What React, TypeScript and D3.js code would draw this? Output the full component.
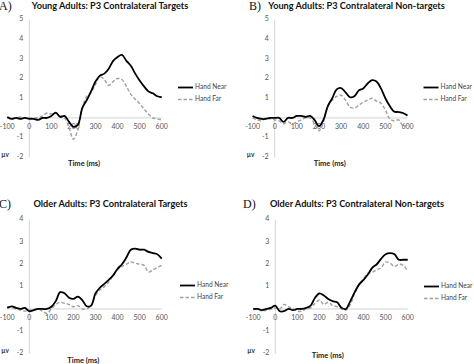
import * as d3 from 'd3';
import { useEffect, useRef } from 'react';

// time points (ms)
const times = [-100, -80, -60, -40, -20, 0, 20, 40, 60, 80, 100, 120, 140, 160, 180, 200, 220, 240, 260, 280, 300, 320, 340, 360, 380, 400, 420, 440, 460, 480, 500, 520, 540, 560, 580, 600];

const xTicks = [-100, 0, 100, 200, 300, 400, 500, 600];
const yTicksYoung = [-2, -1, 1, 2, 3, 4, 5];
const yTicksOld = [-2, -1, 1, 2, 3, 4];

const seriesNames = ['Hand Near', 'Hand Far'];

const youngTargetsNear = [0.05, -0.05, 0.0, -0.05, 0.0, -0.05, -0.05, -0.1, 0.0, 0.0, 0.1, 0.27, 0.05, 0.1, -0.2, -0.45, -0.35, 0.5, 0.9, 1.35, 1.85, 2.15, 2.25, 2.5, 2.9, 3.1, 3.2, 2.9, 2.65, 2.25, 1.9, 1.6, 1.35, 1.25, 1.1, 1.05];
const youngTargetsFar = [0.0, -0.05, 0.0, 0.05, 0.0, 0.0, 0.0, 0.0, 0.1, 0.25, 0.2, 0.25, 0.1, 0.0, -0.5, -1.08, -0.6, 0.5, 1.1, 1.3, 1.7, 2.1, 1.95, 1.65, 1.85, 2.0, 1.95, 1.6, 1.2, 0.95, 0.72, 0.45, 0.2, 0.0, -0.05, -0.1];

const youngNonNear = [0.1, 0.0, -0.05, -0.05, 0.0, 0.0, 0.0, -0.2, 0.0, 0.0, 0.1, 0.1, 0.05, 0.1, -0.1, -0.42, -0.1, 0.6, 1.0, 1.45, 1.52, 1.3, 1.05, 1.1, 1.4, 1.5, 1.75, 1.92, 1.85, 1.5, 1.0, 0.6, 0.32, 0.3, 0.25, 0.12];
const youngNonFar = [0.0, -0.1, -0.15, 0.0, -0.05, -0.1, -0.15, -0.3, -0.2, -0.3, -0.2, -0.1, 0.0, 0.0, -0.3, -0.65, -0.2, 0.6, 0.9, 1.1, 1.15, 0.9, 0.55, 0.5, 0.65, 0.8, 0.9, 1.0, 0.85, 0.75, 0.4, -0.05, -0.15, -0.1, -0.4, -0.35];

const oldTargetsNear = [0.05, 0.12, 0.05, 0.0, 0.05, -0.1, -0.05, 0.0, 0.0, 0.0, 0.1, 0.35, 0.75, 0.7, 0.5, 0.45, 0.55, 0.4, 0.12, 0.15, 0.7, 0.95, 1.12, 1.3, 1.5, 1.8, 2.0, 2.3, 2.65, 2.7, 2.65, 2.65, 2.55, 2.5, 2.45, 2.25];
const oldTargetsFar = [0.1, 0.05, 0.0, -0.05, -0.1, -0.05, -0.05, 0.0, -0.1, -0.2, 0.0, 0.2, 0.3, 0.25, 0.2, 0.1, 0.15, 0.0, 0.0, 0.15, 0.6, 0.85, 1.0, 1.2, 1.5, 1.75, 1.9, 2.0, 2.1, 2.05, 2.0, 1.95, 1.65, 1.75, 1.85, 1.95];

const oldNonNear = [0.0, 0.0, -0.05, 0.0, 0.05, 0.15, -0.1, -0.1, 0.0, -0.05, 0.0, 0.0, 0.05, 0.15, 0.5, 0.7, 0.6, 0.45, 0.35, 0.3, 0.05, 0.0, 0.35, 0.75, 1.1, 1.3, 1.55, 1.85, 2.0, 2.25, 2.45, 2.5, 2.45, 2.2, 2.2, 2.2];
const oldNonFar = [-0.05, 0.0, -0.1, -0.05, 0.0, 0.05, 0.0, 0.2, 0.1, 0.0, -0.1, -0.1, 0.0, 0.05, 0.25, 0.4, 0.2, 0.3, 0.15, 0.1, 0.0, -0.05, 0.2, 0.7, 1.1, 1.35, 1.6, 1.65, 1.75, 1.85, 2.1, 2.05, 1.9, 2.0, 1.95, 1.7];

const panels = [
  { letter: 'A)', title: 'Young Adults: P3 Contralateral Targets', near: youngTargetsNear, far: youngTargetsFar, yTicks: yTicksYoung, yMax: 5,
    x0: 29.3, x600: 161.7, yTop: 19.5, yBot: 157.3, letterX: -1, letterY: 7, titleX: 110, titleY: 7, timeX: 84, timeY: 164, legX: 178, legY: 87.5 },
  { letter: 'B)', title: 'Young Adults: P3 Contralateral Non-targets', near: youngNonNear, far: youngNonFar, yTicks: yTicksYoung, yMax: 5,
    x0: 274.7, x600: 407.5, yTop: 19.5, yBot: 157.3, letterX: 249, letterY: 7, titleX: 356.5, titleY: 7, timeX: 329.7, timeY: 164, legX: 423.5, legY: 87.5 },
  { letter: 'C)', title: 'Older Adults: P3 Contralateral Targets', near: oldTargetsNear, far: oldTargetsFar, yTicks: yTicksOld, yMax: 4,
    x0: 29.3, x600: 161.7, yTop: 219.5, yBot: 353.7, letterX: -1, letterY: 205, titleX: 110.5, titleY: 205, timeX: 83.3, timeY: 361, legX: 180, legY: 285.5 },
  { letter: 'D)', title: 'Older Adults: P3 Contralateral Non-targets', near: oldNonNear, far: oldNonFar, yTicks: yTicksOld, yMax: 4,
    x0: 275.3, x600: 407.7, yTop: 219.5, yBot: 353.7, letterX: 243, letterY: 205, titleX: 357, titleY: 205, timeX: 327.7, timeY: 356, legX: 424, legY: 286.5 },
];

const App = () => {
  const ref = useRef(null);

  useEffect(() => {
    const svg = d3.select(ref.current);
    svg.selectAll('*').remove();
    const font = 'Lato, "Open Sans", sans-serif';

    panels.forEach((p) => {
      const x = d3.scaleLinear().domain([0, 600]).range([p.x0, p.x600]);
      const y = d3.scaleLinear().domain([p.yMax, -2]).range([p.yTop, p.yBot]);
      const g = svg.append('g');

      // axes
      g.append('line')
        .attr('x1', x(-100)).attr('x2', x(600))
        .attr('y1', y(0)).attr('y2', y(0))
        .attr('stroke', '#d4d4d4').attr('stroke-width', 1);
      g.append('line')
        .attr('x1', x(0)).attr('x2', x(0))
        .attr('y1', y(p.yMax)).attr('y2', y(-2))
        .attr('stroke', '#d4d4d4').attr('stroke-width', 1);

      g.selectAll('.xt')
        .data(xTicks)
        .join('text')
        .attr('x', (d) => x(d))
        .attr('y', y(0) + 9.5)
        .attr('text-anchor', 'middle')
        .attr('dominant-baseline', 'middle')
        .style('font-family', font)
        .style('font-size', '7px')
        .style('fill', '#555')
        .text((d) => d);

      g.selectAll('.yt')
        .data(p.yTicks)
        .join('text')
        .attr('x', x(0) - 6)
        .attr('y', (d) => y(d))
        .attr('text-anchor', 'end')
        .attr('dominant-baseline', 'middle')
        .style('font-family', font)
        .style('font-size', '7px')
        .style('fill', '#555')
        .text((d) => d);

      // lines
      const line = d3
        .line<number>()
        .x((d, i) => x(times[i]))
        .y((d) => y(d))
        .curve(d3.curveCatmullRom);

      g.append('path')
        .attr('d', line(p.far))
        .attr('fill', 'none')
        .attr('stroke', '#a0a0a0')
        .attr('stroke-width', 1.4)
        .attr('stroke-dasharray', '3.5,2');
      g.append('path')
        .attr('d', line(p.near))
        .attr('fill', 'none')
        .attr('stroke', '#000')
        .attr('stroke-width', 1.8);

      // labels
      g.append('text')
        .attr('x', x(0) - 28).attr('y', y(-2) - 2)
        .attr('dominant-baseline', 'middle')
        .style('font-family', font).style('font-size', '6.5px').style('font-weight', 'bold')
        .style('fill', '#333')
        .text('µv');
      g.append('text')
        .attr('x', p.timeX).attr('y', p.timeY)
        .attr('text-anchor', 'middle').attr('dominant-baseline', 'middle')
        .style('font-family', font).style('font-size', '7.5px').style('font-weight', 'bold')
        .style('fill', '#222')
        .text('Time (ms)');
      g.append('text')
        .attr('x', p.titleX).attr('y', p.titleY)
        .attr('text-anchor', 'middle').attr('dominant-baseline', 'middle')
        .style('font-family', font).style('font-size', '9.2px').style('font-weight', 'bold')
        .style('fill', '#111')
        .text(p.title);
      g.append('text')
        .attr('x', p.letterX).attr('y', p.letterY)
        .attr('dominant-baseline', 'middle')
        .style('font-family', '"Liberation Serif", serif').style('font-size', '12px')
        .style('fill', '#111')
        .text(p.letter);

      // legend
      seriesNames.forEach((name, i) => {
        const ly = p.legY + i * 12;
        g.append('line')
          .attr('x1', p.legX).attr('x2', p.legX + 15)
          .attr('y1', ly).attr('y2', ly)
          .attr('stroke', i === 0 ? '#000' : '#a0a0a0')
          .attr('stroke-width', i === 0 ? 1.8 : 1.4)
          .attr('stroke-dasharray', i === 0 ? null : '3.5,2');
        g.append('text')
          .attr('x', p.legX + 17).attr('y', ly)
          .attr('dominant-baseline', 'middle')
          .style('font-family', font).style('font-size', '6.6px')
          .style('fill', '#444')
          .text(name);
      });
    });
  }, []);

  return (
    <svg
      ref={ref}
      width={474}
      height={364}
      style={{ position: 'absolute', left: 0, top: 0, background: '#fff' }}
    ></svg>
  );
};

export default App;
